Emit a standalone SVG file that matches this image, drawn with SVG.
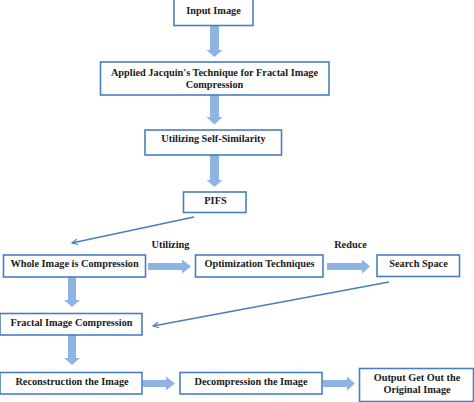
<svg xmlns="http://www.w3.org/2000/svg" width="474" height="402" viewBox="0 0 474 402">
<defs>
<style>
.box{fill:#fff;stroke:#4a7dc0;stroke-width:1.6}
.t{font-family:'Times New Roman','Liberation Serif','DejaVu Serif',serif;font-weight:bold;font-size:10.3px;fill:#1a1a1a;text-anchor:middle}
.blk{fill:#8db4e2}
.ln{stroke:#4a7ebb;stroke-width:1.6;fill:none}
</style>
<marker id="ah" viewBox="0 0 10 10" refX="9" refY="5" markerWidth="7" markerHeight="7" orient="auto" markerUnits="userSpaceOnUse">
<path d="M1,1 L9,5 L1,9" fill="none" stroke="#4a7ebb" stroke-width="1.6"/>
</marker>
</defs>
<rect width="474" height="402" fill="#fff"/>
<g id="connectors">
<path class="blk" d="M210,26 H219 V50 H222.5 L214.5,57 L206.5,50 H210 Z"/>
<path class="blk" d="M210,95 H219 V117 H222.5 L214.5,124.5 L206.5,117 H210 Z"/>
<path class="blk" d="M210,155 H219 V180 H222.5 L214.5,187 L206.5,180 H210 Z"/>
<path class="blk" d="M148,263 H182 V259.5 L191,266.5 L182,273.5 V270 H148 Z"/>
<path class="blk" d="M327,263 H362 V259.5 L370,266.5 L362,273.5 V270 H327 Z"/>
<path class="blk" d="M68,277 H76 V300 H80 L72,307 L64,300 H68 Z"/>
<path class="blk" d="M68,335 H76 V358 H80 L72,365 L64,358 H68 Z"/>
<path class="blk" d="M143,380 H166 V376.5 L175,383.5 L166,390.5 V387 H143 Z"/>
<path class="blk" d="M323,380 H347 V376.5 L355,383.5 L347,390.5 V387 H323 Z"/>
<line class="ln" x1="194" y1="217" x2="72" y2="243" marker-end="url(#ah)"/>
<line class="ln" x1="389" y1="282" x2="153" y2="326" marker-end="url(#ah)"/>
</g>
<g font-family="'Times New Roman', 'Liberation Serif', serif">
<g id="n_input"><rect class="box" x="174" y="-1" width="79" height="26.5"/><text class="t" x="213.5" y="14">Input Image</text></g>
<g id="n_applied"><rect class="box" x="100.5" y="62" width="228.5" height="33"/><text class="t" x="214.5" y="76">Applied Jacquin's Technique for Fractal Image</text><text class="t" x="214.5" y="87.5">Compression</text></g>
<g id="n_selfsim"><rect class="box" x="145" y="130" width="136.5" height="25"/><text class="t" x="213.5" y="142">Utilizing Self-Similarity</text></g>
<g id="n_pifs"><rect class="box" x="183.5" y="192" width="62.5" height="20.5"/><text class="t" x="215.5" y="204">PIFS</text></g>
<text class="t" x="170.5" y="248">Utilizing</text>
<text class="t" x="350.5" y="248">Reduce</text>
<g id="n_whole"><rect class="box" x="3.5" y="255" width="142" height="22"/><text class="t" x="74.5" y="267">Whole Image is Compression</text></g>
<g id="n_optim"><rect class="box" x="195.5" y="255" width="127.5" height="22"/><text class="t" x="259.5" y="267">Optimization Techniques</text></g>
<g id="n_search"><rect class="box" x="377" y="255" width="82.5" height="21.5"/><text class="t" x="418.5" y="267">Search Space</text></g>
<g id="n_fractal"><rect class="box" x="0" y="313.5" width="142" height="21.5"/><text class="t" x="71.5" y="326">Fractal Image Compression</text></g>
<g id="n_recon"><rect class="box" x="0" y="372.5" width="142" height="21.5"/><text class="t" x="72" y="385">Reconstruction the Image</text></g>
<g id="n_decomp"><rect class="box" x="180" y="372.5" width="142" height="21.5"/><text class="t" x="251" y="385">Decompression the Image</text></g>
<g id="n_output"><rect class="box" x="359.5" y="368.5" width="114" height="33"/><text class="t" x="417" y="381">Output Get Out the</text><text class="t" x="417" y="393">Original Image</text></g>
</g>
</svg>
